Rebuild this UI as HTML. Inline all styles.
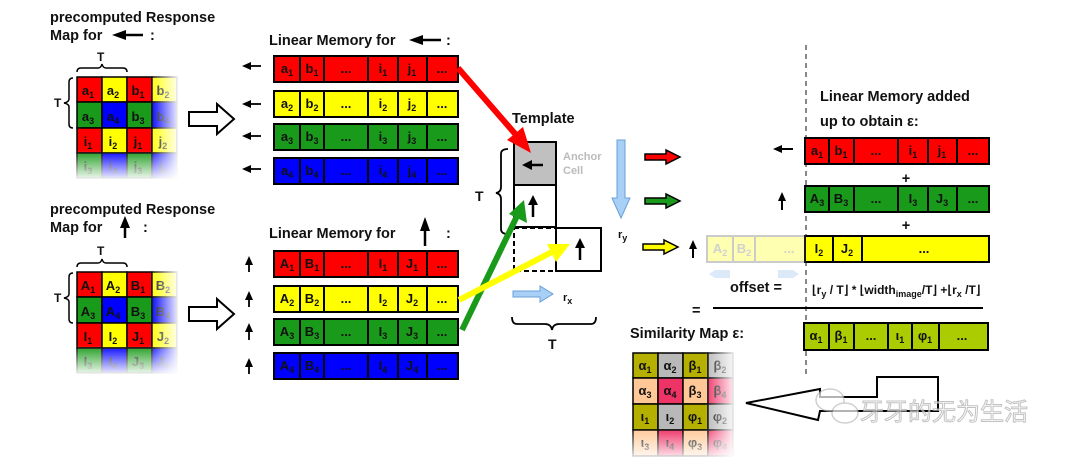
<!DOCTYPE html>
<html><head><meta charset="utf-8"><style>
html,body{margin:0;padding:0;background:#fff;width:1080px;height:462px;overflow:hidden}
svg{display:block}
text{font-family:"Liberation Sans",Arial,sans-serif;font-weight:bold;fill:#111}
.c{font-size:13px;text-anchor:middle}
.t{font-size:14.5px}
.s{font-size:9px}
</style></head><body>
<svg width="1080" height="462" viewBox="0 0 1080 462" xmlns="http://www.w3.org/2000/svg">
<defs>
<linearGradient id="fr" x1="0" x2="1" y1="0" y2="0"><stop offset="0" stop-color="#fff" stop-opacity="0"/><stop offset="1" stop-color="#fff" stop-opacity="1"/></linearGradient>
<linearGradient id="fb" x1="0" x2="0" y1="0" y2="1"><stop offset="0" stop-color="#fff" stop-opacity="0"/><stop offset="1" stop-color="#fff" stop-opacity="1"/></linearGradient>
</defs>

<!-- ===== TOP LEFT ===== -->
<text class="t" x="50" y="22">precomputed Response</text>
<text class="t" x="50" y="40">Map for</text>
<line x1="126" y1="35" x2="143" y2="35" stroke="#000" stroke-width="2.5"/><path d="M112,35 L126,30 L126,40z" fill="#000"/>
<text class="t" x="150" y="40">:</text>
<text class="t" x="97" y="61" style="font-size:12px">T</text>
<path d="M77,72 q0,-4 4,-4 h17 q3,0 4,-4 q1,4 4,4 h17 q4,0 4,4" fill="none" stroke="#000" stroke-width="1.5"/>
<text class="t" x="54" y="107" style="font-size:12px">T</text>
<path d="M73,78 q-4,0 -4,4 v17 q0,3 -5,4 q5,1 5,4 v17 q0,4 4,4" fill="none" stroke="#000" stroke-width="1.5"/>
<g stroke="#000" stroke-width="1.5">
<rect x="77" y="77" width="25" height="25" fill="#f00"/><rect x="102" y="77" width="25" height="25" fill="#ff0"/><rect x="127" y="77" width="25" height="25" fill="#f00"/><rect x="152" y="77" width="25" height="25" fill="#ff0"/>
<rect x="77" y="102" width="25" height="26" fill="#1a9a1a"/><rect x="102" y="102" width="25" height="26" fill="#00f"/><rect x="127" y="102" width="25" height="26" fill="#1a9a1a"/><rect x="152" y="102" width="25" height="26" fill="#00f"/>
<rect x="77" y="128" width="25" height="25" fill="#f00"/><rect x="102" y="128" width="25" height="25" fill="#ff0"/><rect x="127" y="128" width="25" height="25" fill="#f00"/><rect x="152" y="128" width="25" height="25" fill="#ff0"/>
<rect x="77" y="153" width="25" height="25" fill="#1a9a1a"/><rect x="102" y="153" width="25" height="25" fill="#00f"/><rect x="127" y="153" width="25" height="25" fill="#1a9a1a"/><rect x="152" y="153" width="25" height="25" fill="#00f"/>
</g>
<text class="c" x="88" y="95">a<tspan class="s" dy="3">1</tspan></text><text class="c" x="113" y="95">a<tspan class="s" dy="3">2</tspan></text><text class="c" x="138" y="95">b<tspan class="s" dy="3">1</tspan></text><text class="c" x="163" y="95">b<tspan class="s" dy="3">2</tspan></text>
<text class="c" x="88" y="121">a<tspan class="s" dy="3">3</tspan></text><text class="c" x="113" y="121">a<tspan class="s" dy="3">4</tspan></text><text class="c" x="138" y="121">b<tspan class="s" dy="3">3</tspan></text><text class="c" x="163" y="121">b<tspan class="s" dy="3">4</tspan></text>
<text class="c" x="88" y="146">i<tspan class="s" dy="3">1</tspan></text><text class="c" x="113" y="146">i<tspan class="s" dy="3">2</tspan></text><text class="c" x="138" y="146">j<tspan class="s" dy="3">1</tspan></text><text class="c" x="163" y="146">j<tspan class="s" dy="3">2</tspan></text>
<text class="c" x="88" y="171">i<tspan class="s" dy="3">3</tspan></text><text class="c" x="113" y="171">i<tspan class="s" dy="3">4</tspan></text><text class="c" x="138" y="171">j<tspan class="s" dy="3">3</tspan></text><text class="c" x="163" y="171">j<tspan class="s" dy="3">4</tspan></text>
<rect x="150" y="75" width="30" height="106" fill="url(#fr)"/><rect x="75" y="150" width="106" height="31" fill="url(#fb)"/>
<path d="M189,112 h28 v-8 l17,15 l-17,15 v-8 h-28z" fill="#fff" stroke="#000" stroke-width="2"/>

<text class="t" x="269" y="45">Linear Memory for</text>
<line x1="422" y1="40" x2="441" y2="40" stroke="#000" stroke-width="2.5"/><path d="M409,40 L423,35 L423,45z" fill="#000"/>
<text class="t" x="446" y="45">:</text>
<g stroke="#000" stroke-width="1.8">
<line x1="250" y1="66" x2="261" y2="66"/><line x1="250" y1="104" x2="261" y2="104"/><line x1="250" y1="136" x2="261" y2="136"/><line x1="250" y1="169" x2="261" y2="169"/>
</g>
<g fill="#000"><path d="M242,66 l9,-4 v8z"/><path d="M242,104 l9,-4 v8z"/><path d="M242,136 l9,-4 v8z"/><path d="M242,169 l9,-4 v8z"/></g>

<g stroke="#000" stroke-width="2">
<rect x="274" y="56" width="184" height="26" fill="#f00"/><path d="M300,56v26M324,56v26M368,56v26M398,56v26M427,56v26" fill="none"/>
<rect x="274" y="91" width="184" height="26" fill="#ff0"/><path d="M300,91v26M324,91v26M368,91v26M398,91v26M427,91v26" fill="none"/>
<rect x="274" y="124" width="184" height="26" fill="#1a9a1a"/><path d="M300,124v26M324,124v26M368,124v26M398,124v26M427,124v26" fill="none"/>
<rect x="274" y="158" width="184" height="26" fill="#00f"/><path d="M300,158v26M324,158v26M368,158v26M398,158v26M427,158v26" fill="none"/>
</g>
<text class="c" x="287" y="73">a<tspan class="s" dy="3">1</tspan></text><text class="c" x="312" y="73">b<tspan class="s" dy="3">1</tspan></text><text class="c" x="346" y="73">...</text><text class="c" x="383" y="73">i<tspan class="s" dy="3">1</tspan></text><text class="c" x="412" y="73">j<tspan class="s" dy="3">1</tspan></text><text class="c" x="442" y="73">...</text>
<text class="c" x="287" y="108">a<tspan class="s" dy="3">2</tspan></text><text class="c" x="312" y="108">b<tspan class="s" dy="3">2</tspan></text><text class="c" x="346" y="108">...</text><text class="c" x="383" y="108">i<tspan class="s" dy="3">2</tspan></text><text class="c" x="412" y="108">j<tspan class="s" dy="3">2</tspan></text><text class="c" x="442" y="108">...</text>
<text class="c" x="287" y="141">a<tspan class="s" dy="3">3</tspan></text><text class="c" x="312" y="141">b<tspan class="s" dy="3">3</tspan></text><text class="c" x="346" y="141">...</text><text class="c" x="383" y="141">i<tspan class="s" dy="3">3</tspan></text><text class="c" x="412" y="141">j<tspan class="s" dy="3">3</tspan></text><text class="c" x="442" y="141">...</text>
<text class="c" x="287" y="175">a<tspan class="s" dy="3">4</tspan></text><text class="c" x="312" y="175">b<tspan class="s" dy="3">4</tspan></text><text class="c" x="346" y="175">...</text><text class="c" x="383" y="175">i<tspan class="s" dy="3">4</tspan></text><text class="c" x="412" y="175">j<tspan class="s" dy="3">4</tspan></text><text class="c" x="442" y="175">...</text>

<!-- ===== BOTTOM LEFT ===== -->
<text class="t" x="50" y="214">precomputed Response</text>
<text class="t" x="50" y="232">Map for</text>
<line x1="125" y1="238" x2="125" y2="226" stroke="#000" stroke-width="2.5"/><path d="M125,216 L120,228 L130,228z" fill="#000"/>
<text class="t" x="143" y="232">:</text>
<text class="t" x="97" y="255" style="font-size:12px">T</text>
<path d="M77,267 q0,-4 4,-4 h17 q3,0 4,-4 q1,4 4,4 h17 q4,0 4,4" fill="none" stroke="#000" stroke-width="1.5"/>
<text class="t" x="54" y="302" style="font-size:12px">T</text>
<path d="M73,273 q-4,0 -4,4 v17 q0,3 -5,4 q5,1 5,4 v17 q0,4 4,4" fill="none" stroke="#000" stroke-width="1.5"/>
<g stroke="#000" stroke-width="1.5">
<rect x="77" y="272" width="25" height="25" fill="#f00"/><rect x="102" y="272" width="25" height="25" fill="#ff0"/><rect x="127" y="272" width="25" height="25" fill="#f00"/><rect x="152" y="272" width="25" height="25" fill="#ff0"/>
<rect x="77" y="297" width="25" height="26" fill="#1a9a1a"/><rect x="102" y="297" width="25" height="26" fill="#00f"/><rect x="127" y="297" width="25" height="26" fill="#1a9a1a"/><rect x="152" y="297" width="25" height="26" fill="#00f"/>
<rect x="77" y="323" width="25" height="25" fill="#f00"/><rect x="102" y="323" width="25" height="25" fill="#ff0"/><rect x="127" y="323" width="25" height="25" fill="#f00"/><rect x="152" y="323" width="25" height="25" fill="#ff0"/>
<rect x="77" y="348" width="25" height="25" fill="#1a9a1a"/><rect x="102" y="348" width="25" height="25" fill="#00f"/><rect x="127" y="348" width="25" height="25" fill="#1a9a1a"/><rect x="152" y="348" width="25" height="25" fill="#00f"/>
</g>
<text class="c" x="88" y="290">A<tspan class="s" dy="3">1</tspan></text><text class="c" x="113" y="290">A<tspan class="s" dy="3">2</tspan></text><text class="c" x="138" y="290">B<tspan class="s" dy="3">1</tspan></text><text class="c" x="163" y="290">B<tspan class="s" dy="3">2</tspan></text>
<text class="c" x="88" y="316">A<tspan class="s" dy="3">3</tspan></text><text class="c" x="113" y="316">A<tspan class="s" dy="3">4</tspan></text><text class="c" x="138" y="316">B<tspan class="s" dy="3">3</tspan></text><text class="c" x="163" y="316">B<tspan class="s" dy="3">4</tspan></text>
<text class="c" x="88" y="341">I<tspan class="s" dy="3">1</tspan></text><text class="c" x="113" y="341">I<tspan class="s" dy="3">2</tspan></text><text class="c" x="138" y="341">J<tspan class="s" dy="3">1</tspan></text><text class="c" x="163" y="341">J<tspan class="s" dy="3">2</tspan></text>
<text class="c" x="88" y="366">I<tspan class="s" dy="3">3</tspan></text><text class="c" x="113" y="366">I<tspan class="s" dy="3">4</tspan></text><text class="c" x="138" y="366">J<tspan class="s" dy="3">3</tspan></text><text class="c" x="163" y="366">J<tspan class="s" dy="3">4</tspan></text>
<rect x="150" y="270" width="30" height="106" fill="url(#fr)"/><rect x="75" y="345" width="106" height="31" fill="url(#fb)"/>
<path d="M189,307 h28 v-8 l17,15 l-17,15 v-8 h-28z" fill="#fff" stroke="#000" stroke-width="2"/>

<text class="t" x="269" y="238">Linear Memory for</text>
<line x1="425" y1="246" x2="425" y2="230" stroke="#000" stroke-width="2.5"/><path d="M425,217 L420,231 L430,231z" fill="#000"/>
<text class="t" x="446" y="238">:</text>
<g stroke="#000" stroke-width="1.8">
<line x1="249" y1="264" x2="249" y2="272"/><line x1="249" y1="299" x2="249" y2="307"/><line x1="249" y1="331" x2="249" y2="340"/><line x1="249" y1="366" x2="249" y2="374"/>
</g>
<g fill="#000"><path d="M249,256 l-4,9 h8z"/><path d="M249,291 l-4,9 h8z"/><path d="M249,323 l-4,9 h8z"/><path d="M249,358 l-4,9 h8z"/></g>
<g stroke="#000" stroke-width="2">
<rect x="274" y="251" width="184" height="26" fill="#f00"/><path d="M300,251v26M324,251v26M368,251v26M398,251v26M427,251v26" fill="none"/>
<rect x="274" y="286" width="184" height="26" fill="#ff0"/><path d="M300,286v26M324,286v26M368,286v26M398,286v26M427,286v26" fill="none"/>
<rect x="274" y="319" width="184" height="26" fill="#1a9a1a"/><path d="M300,319v26M324,319v26M368,319v26M398,319v26M427,319v26" fill="none"/>
<rect x="274" y="353" width="184" height="26" fill="#00f"/><path d="M300,353v26M324,353v26M368,353v26M398,353v26M427,353v26" fill="none"/>
</g>
<text class="c" x="287" y="268">A<tspan class="s" dy="3">1</tspan></text><text class="c" x="312" y="268">B<tspan class="s" dy="3">1</tspan></text><text class="c" x="346" y="268">...</text><text class="c" x="383" y="268">I<tspan class="s" dy="3">1</tspan></text><text class="c" x="412" y="268">J<tspan class="s" dy="3">1</tspan></text><text class="c" x="442" y="268">...</text>
<text class="c" x="287" y="303">A<tspan class="s" dy="3">2</tspan></text><text class="c" x="312" y="303">B<tspan class="s" dy="3">2</tspan></text><text class="c" x="346" y="303">...</text><text class="c" x="383" y="303">I<tspan class="s" dy="3">2</tspan></text><text class="c" x="412" y="303">J<tspan class="s" dy="3">2</tspan></text><text class="c" x="442" y="303">...</text>
<text class="c" x="287" y="336">A<tspan class="s" dy="3">3</tspan></text><text class="c" x="312" y="336">B<tspan class="s" dy="3">3</tspan></text><text class="c" x="346" y="336">...</text><text class="c" x="383" y="336">I<tspan class="s" dy="3">3</tspan></text><text class="c" x="412" y="336">J<tspan class="s" dy="3">3</tspan></text><text class="c" x="442" y="336">...</text>
<text class="c" x="287" y="370">A<tspan class="s" dy="3">4</tspan></text><text class="c" x="312" y="370">B<tspan class="s" dy="3">4</tspan></text><text class="c" x="346" y="370">...</text><text class="c" x="383" y="370">I<tspan class="s" dy="3">4</tspan></text><text class="c" x="412" y="370">J<tspan class="s" dy="3">4</tspan></text><text class="c" x="442" y="370">...</text>

<!-- ===== TEMPLATE ===== -->
<text class="t" x="512" y="123">Template</text>
<rect x="514" y="142" width="42" height="43" fill="#c0c0c0" stroke="#000" stroke-width="2"/>
<rect x="514" y="185" width="42" height="42" fill="#fff" stroke="#000" stroke-width="2"/>
<rect x="514" y="228" width="42" height="43" fill="#fff" stroke="#000" stroke-width="2" stroke-dasharray="5,3"/>
<rect x="556" y="228" width="45" height="43" fill="#fff" stroke="#000" stroke-width="2"/>
<line x1="530" y1="165" x2="543" y2="165" stroke="#000" stroke-width="2.5"/><path d="M522,165 l10,-5 v10z" fill="#000"/>
<line x1="533" y1="217" x2="533" y2="203" stroke="#000" stroke-width="2.5"/><path d="M533,195 l-5,10 h10z" fill="#000"/>
<line x1="580" y1="260" x2="580" y2="246" stroke="#000" stroke-width="2.5"/><path d="M580,238 l-5,10 h10z" fill="#000"/>
<text x="563" y="160" style="font-size:11px;fill:#bbb">Anchor</text>
<text x="563" y="174" style="font-size:11px;fill:#bbb">Cell</text>
<text x="475" y="201" style="font-size:14px">T</text>
<path d="M508,149 q-7,0 -7,5 v33 q0,5 -5,6 q5,1 5,6 v30 q0,5 7,5" fill="none" stroke="#000" stroke-width="1.8"/>
<path d="M617,140 h8 v58 h5 l-9,20 l-9,-20 h5z" fill="#a8cff5" stroke="#6a9fd8" stroke-width="1"/>
<text x="618" y="238" style="font-size:11px">r<tspan class="s" dy="3">y</tspan></text>
<path d="M513,291 h27 v-5 l13,8 l-13,8 v-5 h-27z" fill="#a8cff5" stroke="#6a9fd8" stroke-width="1"/>
<text x="563" y="301" style="font-size:11px">r<tspan class="s" dy="3">x</tspan></text>
<path d="M512,317 q0,7 5,7 h28 q6,0 7,6 q1,-6 7,-6 h32 q5,0 5,-7" fill="none" stroke="#000" stroke-width="1.8"/>
<text x="548" y="349" style="font-size:14px">T</text>

<!-- colored arrows -->
<line x1="458" y1="68" x2="517" y2="136" stroke="#f00" stroke-width="6"/><path d="M531,153 L507,140 L523,127z" fill="#f00"/>
<line x1="462" y1="330" x2="518" y2="214" stroke="#1a9a1a" stroke-width="6"/><path d="M524,200 L527,223 L509,214z" fill="#1a9a1a"/>
<line x1="459" y1="300" x2="552" y2="252" stroke="#ff0" stroke-width="6"/><path d="M570,244 L556,262 L547,244z" fill="#ff0"/>

<!-- ===== RIGHT ===== -->
<line x1="806" y1="45" x2="806" y2="378" stroke="#888" stroke-width="2" stroke-dasharray="5,4"/>
<text class="t" x="820" y="101">Linear Memory added</text>
<text class="t" x="820" y="126">up to obtain &#949;:</text>

<path d="M645,154 h21 v-4 l14,7 l-14,7 v-4 h-21z" fill="#f00" stroke="#000" stroke-width="1.5"/>
<path d="M645,198 h21 v-4 l14,7 l-14,7 v-4 h-21z" fill="#1a9a1a" stroke="#000" stroke-width="1.5"/>
<path d="M643,244 h21 v-4 l14,7 l-14,7 v-4 h-21z" fill="#ff0" stroke="#000" stroke-width="1.5"/>
<line x1="781" y1="149" x2="793" y2="149" stroke="#000" stroke-width="2"/><path d="M773,149 l9,-4 v8z" fill="#000"/>
<line x1="782" y1="210" x2="782" y2="200" stroke="#000" stroke-width="2"/><path d="M782,192 l-4,9 h8z" fill="#000"/>
<line x1="693" y1="258" x2="693" y2="248" stroke="#000" stroke-width="2"/><path d="M693,240 l-4,9 h8z" fill="#000"/>

<g stroke="#000" stroke-width="2">
<rect x="805" y="138" width="184" height="26" fill="#f00"/><path d="M829,138v26M854,138v26M898,138v26M928,138v26M957,138v26" fill="none"/>
<rect x="805" y="186" width="184" height="26" fill="#1a9a1a"/><path d="M829,186v26M854,186v26M898,186v26M928,186v26M957,186v26" fill="none"/>
<rect x="805" y="236" width="184" height="26" fill="#ff0"/><path d="M833,236v26M862,236v26" fill="none"/>
</g>
<g opacity="0.3">
<rect x="707" y="236" width="98" height="26" fill="#ff0" stroke="#555" stroke-width="2"/><path d="M733,236v26M755,236v26" stroke="#555" stroke-width="2"/>
<text class="c" x="720" y="253" style="fill:#666">A<tspan class="s" dy="3">2</tspan></text><text class="c" x="744" y="253" style="fill:#666">B<tspan class="s" dy="3">2</tspan></text><text class="c" x="789" y="253" style="fill:#666">...</text>
</g>
<text class="c" x="817" y="155">a<tspan class="s" dy="3">1</tspan></text><text class="c" x="841" y="155">b<tspan class="s" dy="3">1</tspan></text><text class="c" x="876" y="155">...</text><text class="c" x="913" y="155">i<tspan class="s" dy="3">1</tspan></text><text class="c" x="942" y="155">j<tspan class="s" dy="3">1</tspan></text><text class="c" x="973" y="155">...</text>
<text class="t" x="906" y="183" text-anchor="middle">+</text>
<text class="c" x="817" y="203">A<tspan class="s" dy="3">3</tspan></text><text class="c" x="841" y="203">B<tspan class="s" dy="3">3</tspan></text><text class="c" x="876" y="203">...</text><text class="c" x="913" y="203">I<tspan class="s" dy="3">3</tspan></text><text class="c" x="942" y="203">J<tspan class="s" dy="3">3</tspan></text><text class="c" x="973" y="203">...</text>
<text class="t" x="906" y="230" text-anchor="middle">+</text>
<text class="c" x="819" y="253">I<tspan class="s" dy="3">2</tspan></text><text class="c" x="847" y="253">J<tspan class="s" dy="3">2</tspan></text><text class="c" x="924" y="253">...</text>

<path d="M730,270 h-15 l-6,4 l6,4 h15z" fill="#dbe9f9"/>
<path d="M778,270 h15 l6,4 l-6,4 h-15z" fill="#dbe9f9"/>
<text class="t" x="730" y="292">offset  =</text>
<text x="812" y="294" style="font-size:12px">&#8970;r<tspan class="s" dy="3">y</tspan><tspan dy="-3"> / T&#8971; * &#8970;width</tspan><tspan class="s" dy="3">image</tspan><tspan dy="-3">/T&#8971; +&#8970;r</tspan><tspan class="s" dy="3">x</tspan><tspan dy="-3"> /T&#8971;</tspan></text>
<text class="t" x="692" y="315">=</text>
<line x1="713" y1="308" x2="983" y2="308" stroke="#000" stroke-width="2"/>

<text class="t" x="630" y="338">Similarity Map &#949;:</text>
<g stroke="#000" stroke-width="2">
<rect x="804" y="323" width="184" height="27" fill="#aacc00"/><path d="M829,323v27M854,323v27M888,323v27M912,323v27M939,323v27" fill="none"/>
</g>
<text class="c" x="816" y="340">&#945;<tspan class="s" dy="3">1</tspan></text><text class="c" x="841" y="340">&#946;<tspan class="s" dy="3">1</tspan></text><text class="c" x="871" y="340">...</text><text class="c" x="900" y="340">&#953;<tspan class="s" dy="3">1</tspan></text><text class="c" x="925" y="340">&#966;<tspan class="s" dy="3">1</tspan></text><text class="c" x="962" y="340">...</text>

<g stroke="#000" stroke-width="1.5">
<rect x="633" y="353" width="25" height="25" fill="#b5b000"/><rect x="658" y="353" width="25" height="25" fill="#b8b8b8"/><rect x="683" y="353" width="25" height="25" fill="#b5b000"/><rect x="708" y="353" width="25" height="25" fill="#b8b8b8"/>
<rect x="633" y="378" width="25" height="26" fill="#ffc896"/><rect x="658" y="378" width="25" height="26" fill="#ee3366"/><rect x="683" y="378" width="25" height="26" fill="#ffc896"/><rect x="708" y="378" width="25" height="26" fill="#ee3366"/>
<rect x="633" y="404" width="25" height="26" fill="#b5b000"/><rect x="658" y="404" width="25" height="26" fill="#b8b8b8"/><rect x="683" y="404" width="25" height="26" fill="#b5b000"/><rect x="708" y="404" width="25" height="26" fill="#b8b8b8"/>
<rect x="633" y="430" width="25" height="26" fill="#ffc896"/><rect x="658" y="430" width="25" height="26" fill="#ee3366"/><rect x="683" y="430" width="25" height="26" fill="#ffc896"/><rect x="708" y="430" width="25" height="26" fill="#ee3366"/>
</g>
<text class="c" x="645" y="370">&#945;<tspan class="s" dy="3">1</tspan></text><text class="c" x="670" y="370">&#945;<tspan class="s" dy="3">2</tspan></text><text class="c" x="695" y="370">&#946;<tspan class="s" dy="3">1</tspan></text><text class="c" x="720" y="370">&#946;<tspan class="s" dy="3">2</tspan></text>
<text class="c" x="645" y="395">&#945;<tspan class="s" dy="3">3</tspan></text><text class="c" x="670" y="395">&#945;<tspan class="s" dy="3">4</tspan></text><text class="c" x="695" y="395">&#946;<tspan class="s" dy="3">3</tspan></text><text class="c" x="720" y="395">&#946;<tspan class="s" dy="3">4</tspan></text>
<text class="c" x="645" y="421">&#953;<tspan class="s" dy="3">1</tspan></text><text class="c" x="670" y="421">&#953;<tspan class="s" dy="3">2</tspan></text><text class="c" x="695" y="421">&#966;<tspan class="s" dy="3">1</tspan></text><text class="c" x="720" y="421">&#966;<tspan class="s" dy="3">2</tspan></text>
<text class="c" x="645" y="447">&#953;<tspan class="s" dy="3">3</tspan></text><text class="c" x="670" y="447">&#953;<tspan class="s" dy="3">4</tspan></text><text class="c" x="695" y="447">&#966;<tspan class="s" dy="3">3</tspan></text><text class="c" x="720" y="447">&#966;<tspan class="s" dy="3">4</tspan></text>
<rect x="705" y="350" width="32" height="112" fill="url(#fr)"/><rect x="630" y="428" width="107" height="34" fill="url(#fb)"/>

<path d="M746,403 L820,389 L820,397 L877,397 L877,377 L938,377 L938,411 L820,411 L818,420z" fill="#fff" stroke="#000" stroke-width="2"/>

<!-- watermark -->
<g opacity="0.7">
<ellipse cx="830" cy="400" rx="14" ry="11" fill="#fff" stroke="#bbb" stroke-width="1.5"/>
<ellipse cx="845" cy="413" rx="13" ry="10" fill="#fff" stroke="#bbb" stroke-width="1.5"/>
<text x="860" y="420" style="font-family:'Noto Sans CJK SC',sans-serif;font-weight:normal;font-size:24px;fill:#fff;stroke:#aaa;stroke-width:1">牙牙的无为生活</text>
</g>
</svg>
</body></html>
